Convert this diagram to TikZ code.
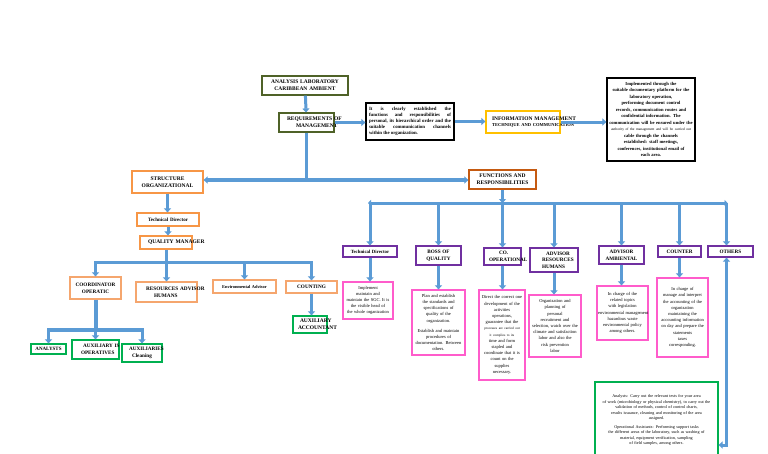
\documentclass[tikz,border=0pt]{standalone}
\usepackage{fontspec}
\setmainfont{Liberation Serif}
\usepackage{tikz}
\usetikzlibrary{arrows.meta, positioning}
\definecolor{linkblue}{HTML}{5B9BD5}
\definecolor{olivegreen}{HTML}{4F6228}
\definecolor{orangebox}{HTML}{F79646}
\definecolor{peachbox}{HTML}{F5A66E}
\definecolor{brownbox}{HTML}{C55A11}
\definecolor{goldbox}{HTML}{FFC000}
\definecolor{purplebox}{HTML}{7030A0}
\definecolor{pinkbox}{HTML}{FF5CCB}
\definecolor{greenbox}{HTML}{00B050}
\hyphenpenalty=10000
\exhyphenpenalty=10000

\begin{document}
\begin{tikzpicture}[
  x=1pt, y=-1pt,
  box/.style = {
    rectangle, draw, line width=1.2pt, inner sep=1pt,
    align=center, font=\fontsize{5.5}{6.8}\selectfont\bfseries
  },
  role/.style = {box, draw=purplebox, font=\fontsize{5.2}{6.6}\selectfont\bfseries},
  desc/.style = {
    rectangle, draw=pinkbox, line width=1.2pt, inner sep=1pt,
    align=center, font=\fontsize{4.5}{6.2}\selectfont
  },
  link/.style = {line width=3pt, color=linkblue},
  arr/.style = {link, -{Triangle[length=4pt, width=7pt]}},
  arrboth/.style = {link, {Triangle[length=4pt, width=7pt]}-{Triangle[length=4pt, width=7pt]}},
  bus/.style = {link, line cap=rect}
]
  \useasboundingbox[fill=white] (0,0) rectangle (768,453);

  % top row
  \node[box, draw=olivegreen, text width=84pt, minimum height=19pt] (lab) at (305,85.5)
    {ANALYSIS LABORATORY\\CARIBBEAN AMBIENT};
  \node[box, draw=olivegreen, text width=53pt, minimum height=19pt, align=left] (req) at (306.5,122.5)
    {\hspace*{7pt}\mbox{REQUIREMENTS OF}\\\hspace*{16pt}MANAGEMENT};
  \node[box, draw=black, text width=82pt, minimum height=37pt, inner sep=3pt, align=justify,
    font=\fontsize{4.8}{6}\selectfont\bfseries] (stmt) at (410,121.5)
    {It is clearly established the\linebreak functions and responsibilities of\linebreak
     personal, its hierarchical order and the\linebreak suitable communication channels\linebreak
     within the organization.};
  \node[box, draw=goldbox, text width=72pt, minimum height=22pt, align=left] (info) at (523,122)
    {\hspace*{5pt}\mbox{INFORMATION MANAGEMENT}\\[-1pt]
     \hspace*{5pt}\mbox{\fontsize{4.5}{6}\selectfont TECHNIQUE AND COMMUNICATION}};
  \node[box, draw=black, text width=84pt, minimum height=83pt, inner sep=2pt,
    font=\fontsize{4.6}{6.5}\selectfont\bfseries] (plat) at (651,119.5)
    {Implemented through the\\suitable documentary platform for the\\laboratory operation,\\
     performing document control\\records, communication routes and\\confidential information. The\\
     \mbox{communication will be ensured under the}\\
     \mbox{\mdseries\fontsize{3.6}{6.5}\selectfont authority of the management and will be carried out}\\
     cable through the channels\\established: staff meetings,\\conferences, institutional email of\\each area.};

  % second row
  \node[box, draw=orangebox, text width=69pt, minimum height=22pt] (struct) at (167.5,182)
    {STRUCTURE\\ORGANIZATIONAL};
  \node[box, draw=brownbox, text width=65pt, minimum height=19pt] (func) at (502.5,179.5)
    {FUNCTIONS AND\\RESPONSIBILITIES};

  % structure column
  \node[box, draw=orangebox, text width=60pt, minimum height=13pt,
    font=\fontsize{5}{6}\selectfont\bfseries] (tdir) at (168,219.5) {Technical Director};
  \node[box, draw=orangebox, text width=50pt, minimum height=13pt, align=left] (qman) at (166,242.5)
    {\hspace*{7pt}\mbox{QUALITY MANAGER}};
  \node[box, draw=peachbox, text width=49pt, minimum height=22pt,
    font=\fontsize{5.2}{6.8}\selectfont\bfseries] (coord) at (95.5,288) {COORDINATOR\\OPERATIC};
  \node[box, draw=peachbox, text width=59pt, minimum height=20pt, align=left,
    font=\fontsize{5.3}{6.8}\selectfont\bfseries] (rrhh) at (166.5,292)
    {\hspace*{9pt}\mbox{RESOURCES ADVISOR}\\\hspace*{17pt}HUMANS};
  \node[box, draw=peachbox, text width=61pt, minimum height=13pt,
    font=\fontsize{4.4}{5.5}\selectfont\bfseries] (env) at (244.5,286.5) {Environmental Advisor};
  \node[box, draw=peachbox, text width=49pt, minimum height=12pt,
    font=\fontsize{5.2}{6}\selectfont\bfseries] (counting) at (311.5,287) {COUNTING};
  \node[box, draw=greenbox, text width=32pt, minimum height=17pt, align=left] (auxacc) at (310,324.5)
    {\hspace*{6pt}AUXILIARY\\\hspace*{4pt}ACCOUNTANT};
  \node[box, draw=greenbox, text width=33pt, minimum height=10pt,
    font=\fontsize{5}{6}\selectfont\bfseries] (analysts) at (48.5,349) {ANALYSTS};
  \node[box, draw=greenbox, text width=45pt, minimum height=19pt, align=left,
    font=\fontsize{5.2}{6.8}\selectfont\bfseries] (auxop) at (95.5,349.5)
    {\hspace*{10pt}\mbox{AUXILIARY IS}\\\hspace*{8pt}OPERATIVES};
  \node[box, draw=greenbox, text width=38pt, minimum height=18pt, align=left,
    font=\fontsize{5.2}{6.8}\selectfont\bfseries] (auxcl) at (142,353)
    {\hspace*{6pt}AUXILIARIES\\\hspace*{9pt}Cleaning};

  % functions row
  \node[role, text width=52pt, minimum height=11pt,
    font=\fontsize{4.8}{6}\selectfont\bfseries] (rdir) at (370,251.5) {Technical Director};
  \node[role, text width=43pt, minimum height=19pt] (rboss) at (438.5,255.5) {BOSS OF\\QUALITY};
  \node[role, text width=35pt, minimum height=17pt, align=left] (rco) at (502.5,256.5)
    {\hspace*{14pt}CO.\\\hspace*{4pt}OPERATIONAL};
  \node[role, text width=46pt, minimum height=24pt, align=left] (rrh) at (554,260)
    {\hspace*{15pt}ADVISOR\\\hspace*{11pt}RESOURCES\\\hspace*{11pt}HUMANS};
  \node[role, text width=43pt, minimum height=18pt] (ramb) at (621.5,255) {ADVISOR\\AMBIENTAL};
  \node[role, text width=41pt, minimum height=11pt] (rcount) at (679.5,251.5) {COUNTER};
  \node[role, text width=43pt, minimum height=11pt] (roth) at (730.5,251.5) {OTHERS};

  % descriptions
  \node[desc, text width=48pt, minimum height=37pt] (ddir) at (368,300.5)
    {Implement\\maintain and\\maintain the SGC. It is\\the visible head of\\\mbox{the whole organization}};
  \node[desc, text width=51pt, minimum height=65pt] (dboss) at (438.5,322.5)
    {Plan and establish\\the standards and\\specifications of\\quality of the\\organization.\\[4pt]
     \mbox{Establish and maintain}\\procedures of\\\mbox{documentation. Between}\\others.};
  \node[desc, text width=44pt, minimum height=90pt] (dco) at (502,335)
    {\mbox{Direct the correct one}\\development of the\\activities\\operations,\\guarantee that the\\
     \mbox{\fontsize{3.4}{6.2}\selectfont processes are carried out}\\
     {\fontsize{3.4}{6.2}\selectfont it complies to its}\\
     time and form\\stapled and\\coordinate that it is\\count on the\\supplies\\necessary.};
  \node[desc, text width=50pt, minimum height=62pt] (drh) at (555,326)
    {Organization and\\planning of\\personal\\recruitment and\\\mbox{selection, watch over the}\\
     \mbox{climate and satisfaction}\\labor and also the\\risk prevention\\labor};
  \node[desc, text width=49pt, minimum height=54pt] (damb) at (622.5,313)
    {In charge of the\\related topics\\with legislation\\\mbox{environmental management}\\
     hazardous waste\\\mbox{environmental policy}\\among others.};
  \node[desc, text width=49pt, minimum height=79pt] (dcount) at (682.5,317.5)
    {In charge of\\\mbox{manage and interpret}\\\mbox{the accounting of the}\\organization\\maintaining the\\
     \mbox{accounting information}\\\mbox{on day and prepare the}\\statements\\taxes\\corresponding.};
  \node[desc, draw=greenbox, text width=121pt, minimum height=76pt,
    font=\fontsize{4.2}{5.5}\selectfont] (dbottom) at (656.5,420)
    {\mbox{Analysts: Carry out the relevant tests for your area}\\
     \mbox{of work (microbiology or physical chemistry), to carry out the}\\
     \mbox{validation of methods, control of control charts,}\\
     \mbox{results issuance, cleaning and monitoring of the area}\\assigned.\\[3pt]
     \mbox{Operational Assistants: Performing support tasks}\\
     \mbox{the different areas of the laboratory, such as washing of}\\
     \mbox{material, equipment verification, sampling}\\\mbox{of field samples, among others.}};

  % connectors, top
  \draw[arr] (lab) -- (req);
  \draw[arr] (req.east) -- (req.east -| stmt.west);
  \draw[arr] (stmt.east) -- (stmt.east -| info.west);
  \draw[arr] (info.east) -- (info.east -| plat.west);

  \coordinate (split) at (306.5,180);
  \draw[link] (req.south) -- (split);
  \draw[arr, line width=4pt] (split) -- (split -| struct.east);
  \draw[arr, line width=4pt] (split) -- (split -| func.west);

  % connectors, structure
  \draw[arr] (struct.south) -- (struct.south |- tdir.north);
  \draw[arr] (tdir.south) -- (tdir.south |- qman.north);
  \coordinate (qbus) at (166,262);
  \draw[link] (qman.south) -- (qbus);
  \draw[bus] (coord.north |- qbus) -- (counting.north |- qbus);
  \foreach \n in {coord, rrhh, env, counting}
    \draw[arr] (\n.north |- qbus) -- (\n.north);
  \draw[arr] (counting.south) -- (counting.south |- auxacc.north);

  \coordinate (cbus) at (95.5,330);
  \draw[link, line width=4pt] (coord.south) -- (cbus);
  \draw[bus, line width=4pt] (analysts.north |- cbus) -- (auxcl.north |- cbus);
  \foreach \n in {analysts, auxop, auxcl}
    \draw[arr] (\n.north |- cbus) -- (\n.north);

  % connectors, functions
  \coordinate (fbus) at (502.5,203);
  \coordinate (othhead) at ([xshift=-4pt]roth.north);
  \coordinate (othfoot) at ([xshift=-4pt]roth.south);
  \draw[arr] (func.south) -- (fbus);
  \draw[link, {Triangle[length=3pt, width=6pt]}-{Triangle[length=3pt, width=6pt]}]
    ([xshift=-2pt]rdir.north |- fbus) -- ([xshift=1pt]othhead |- fbus);
  \foreach \n in {rdir, rboss, rco, rrh, ramb, rcount}
    \draw[arr] (\n.north |- fbus) -- (\n.north);
  \draw[arr] (othhead |- fbus) -- (othhead);

  \draw[arr] (rdir.south) -- (rdir.south |- ddir.north);
  \draw[arr] (rboss.south) -- (rboss.south |- dboss.north);
  \draw[arr] (rco.south) -- (rco.south |- dco.north);
  \draw[arr] (rrh.south) -- (rrh.south |- drh.north);
  \draw[arr] (ramb.south) -- (ramb.south |- damb.north);
  \draw[arr] (rcount.south) -- (rcount.south |- dcount.north);

  \coordinate (ocorner) at (othfoot |- 0,445);
  \draw[arrboth] (othfoot) -- (ocorner) -- (ocorner -| dbottom.east);
\end{tikzpicture}
\end{document}
